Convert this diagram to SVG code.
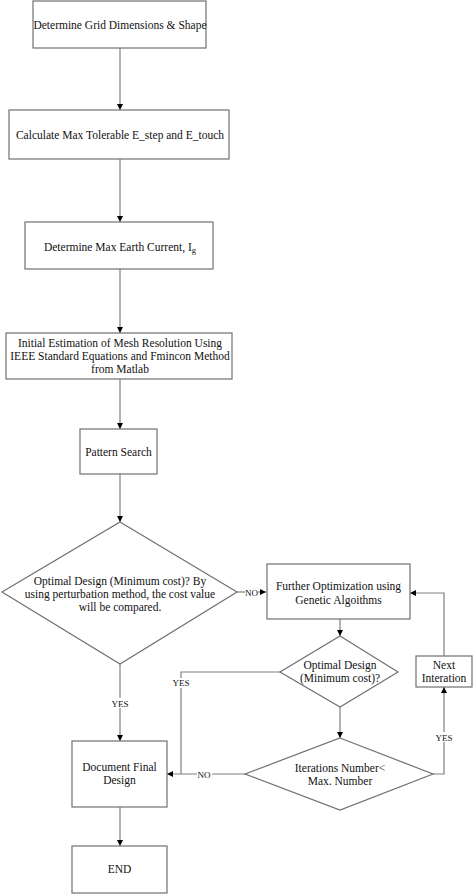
<svg xmlns="http://www.w3.org/2000/svg" width="474" height="896" viewBox="0 0 474 896">
<style>
.box{fill:#fff;stroke:#707070;stroke-width:1.2}
.ln{fill:none;stroke:#808080;stroke-width:1.2}
.t{font-family:"Liberation Serif","Times New Roman",serif;font-size:11.5px;fill:#111;text-anchor:middle}
.lb{font-family:"Liberation Serif","Times New Roman",serif;font-size:9px;fill:#111;text-anchor:middle}
.bg{fill:#fff}
</style>
<defs>
<marker id="ah" markerWidth="7" markerHeight="7" refX="6" refY="3.5" orient="auto" markerUnits="userSpaceOnUse">
<path d="M0,0.5 L6,3.5 L0,6.5 Z" fill="#000"/>
</marker>
</defs>
<rect width="474" height="896" fill="#fff"/>
<g id="connectors">
<path class="ln" d="M120,48 V110" marker-end="url(#ah)"/>
<path class="ln" d="M120,159 V222" marker-end="url(#ah)"/>
<path class="ln" d="M120,269 V333" marker-end="url(#ah)"/>
<path class="ln" d="M120,379 V429" marker-end="url(#ah)"/>
<path class="ln" d="M120,474 V522" marker-end="url(#ah)"/>
<path class="ln" d="M237,592 H266" marker-end="url(#ah)"/>
<path class="ln" d="M120,664 V741" marker-end="url(#ah)"/>
<path class="ln" d="M340,619 V636" marker-end="url(#ah)"/>
<path class="ln" d="M340,707 V738" marker-end="url(#ah)"/>
<path class="ln" d="M280,672 H181 V774"/>
<path class="ln" d="M245,774 H167" marker-end="url(#ah)"/>
<path class="ln" d="M433,774 H444 V687" marker-end="url(#ah)"/>
<path class="ln" d="M444,656 V593 H410" marker-end="url(#ah)"/>
<path class="ln" d="M120,807 V846" marker-end="url(#ah)"/>
<rect class="bg" x="245" y="587" width="13" height="10"/>
<text class="lb" x="251.5" y="595.5">NO</text>
<rect class="bg" x="110" y="698" width="20" height="10"/>
<text class="lb" x="120" y="706.5">YES</text>
<rect class="bg" x="172" y="678" width="18" height="10"/>
<text class="lb" x="181" y="686">YES</text>
<rect class="bg" x="197" y="769" width="15" height="10"/>
<text class="lb" x="204" y="777.5">NO</text>
<rect class="bg" x="435" y="732" width="18" height="10"/>
<text class="lb" x="444" y="740.5">YES</text>
</g>
<g id="n1"><rect class="box" x="33" y="1" width="173" height="47"/><text class="t" x="120" y="29">Determine Grid Dimensions &amp; Shape</text></g>
<g id="n2"><rect class="box" x="9" y="110" width="220" height="49"/><text class="t" x="120" y="139">Calculate Max Tolerable E_step and E_touch</text></g>
<g id="n3"><rect class="box" x="25" y="222" width="188" height="47"/><text class="t" x="120" y="251">Determine Max Earth Current, I<tspan font-size="8.5px" dy="1.5">g</tspan></text></g>
<g id="n4"><rect class="box" x="6" y="333" width="226" height="46"/><text class="t" x="120" y="347">Initial Estimation of Mesh Resolution Using</text><text class="t" x="120" y="360">IEEE Standard Equations and Fmincon Method</text><text class="t" x="120" y="373">from Matlab</text></g>
<g id="n5"><rect class="box" x="80" y="429" width="77" height="45"/><text class="t" x="118.5" y="456">Pattern Search</text></g>
<g id="d1"><polygon class="box" points="120,522 237,592 120,664 2,592"/><text class="t" x="120" y="585">Optimal Design (Minimum cost)? By</text><text class="t" x="120" y="598">using perturbation method, the cost value</text><text class="t" x="120" y="611">will be compared.</text></g>
<g id="n6"><rect class="box" x="267" y="564" width="143" height="55"/><text class="t" x="338.5" y="590">Further Optimization using</text><text class="t" x="338.5" y="604">Genetic Algoithms</text></g>
<g id="d2"><polygon class="box" points="340,636 398,672 340,707 280,672"/><text class="t" x="340" y="669">Optimal Design</text><text class="t" x="340" y="682">(Minimum cost)?</text></g>
<g id="d3"><polygon class="box" points="340,738 433,774 340,810 245,774"/><text class="t" x="340" y="772">Iterations Number&lt;</text><text class="t" x="340" y="785">Max. Number</text></g>
<g id="n7"><rect class="box" x="416" y="656" width="56" height="31"/><text class="t" x="444" y="669">Next</text><text class="t" x="444" y="682">Interation</text></g>
<g id="n8"><rect class="box" x="72" y="741" width="95" height="66"/><text class="t" x="119.5" y="771">Document Final</text><text class="t" x="119.5" y="784">Design</text></g>
<g id="n9"><rect class="box" x="72" y="846" width="95" height="47"/><text class="t" x="119.5" y="873">END</text></g>
</svg>
